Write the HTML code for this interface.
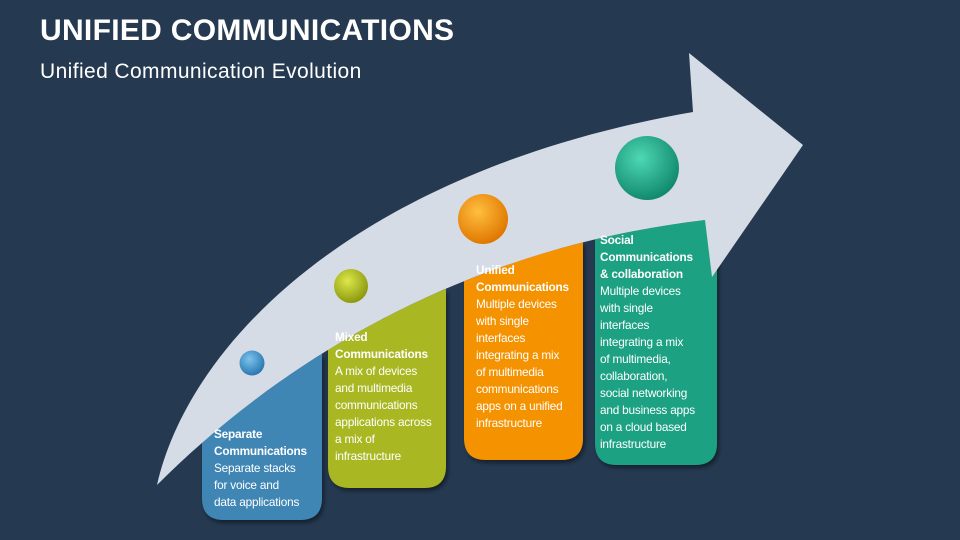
<!DOCTYPE html>
<html><head><meta charset="utf-8"><style>
body{margin:0;width:960px;height:540px;background:#253951;overflow:hidden;position:relative;font-family:"Liberation Sans",sans-serif;color:#fff}
.t{position:absolute;left:40px;top:14px;font-size:30px;font-weight:bold;letter-spacing:0.3px}
.s{position:absolute;left:40px;top:60px;font-size:21px;letter-spacing:0.4px}
.tx{position:absolute;font-size:11.8px;line-height:17px;letter-spacing:-0.2px;white-space:nowrap}
.tx b{font-weight:bold}
svg{position:absolute;left:0;top:0}
</style></head><body>
<div class="t">UNIFIED COMMUNICATIONS</div>
<div class="s">Unified Communication Evolution</div>
<svg width="960" height="540">
<defs>
<radialGradient id="g1" cx="40%" cy="35%" r="65%"><stop offset="0" stop-color="#7cc3ee"/><stop offset="1" stop-color="#2a78b0"/></radialGradient>
<radialGradient id="g2" cx="40%" cy="35%" r="65%"><stop offset="0" stop-color="#dde84a"/><stop offset="1" stop-color="#8d9a10"/></radialGradient>
<radialGradient id="g3" cx="40%" cy="35%" r="65%"><stop offset="0" stop-color="#ffbf40"/><stop offset="1" stop-color="#e07800"/></radialGradient>
<radialGradient id="g4" cx="40%" cy="35%" r="65%"><stop offset="0" stop-color="#4ed8b4"/><stop offset="1" stop-color="#128a6e"/></radialGradient>
<clipPath id="cp"><path d="M0,485 L157,485 C270,372 450,250 705,220 L960,220 L960,540 L0,540 Z"/></clipPath>
<filter id="sh" x="-10%" y="-10%" width="130%" height="130%"><feDropShadow dx="2" dy="3" stdDeviation="2" flood-color="#000" flood-opacity="0.45"/></filter>
</defs>
<g filter="url(#sh)"><g clip-path="url(#cp)">
<path d="M202,200 H322 V498 Q322,520 300,520 H224 Q202,520 202,498 Z" fill="#3f86b5"/>
<path d="M328,200 H446 V466 Q446,488 424,488 H350 Q328,488 328,466 Z" fill="#a9b824"/>
<path d="M464,200 H583 V438 Q583,460 561,460 H486 Q464,460 464,438 Z" fill="#f49200"/>
<path d="M595,200 H717 V443 Q717,465 695,465 H617 Q595,465 595,443 Z" fill="#1fa182"/>
</g></g>
<path d="M157,485 C190,340 360,170 693,112 L689,53 L803,145 L712,277 L705,220 C450,250 270,372 157,485 Z" fill="#d6dce5"/>
<circle cx="252" cy="363" r="12.5" fill="url(#g1)"/>
<circle cx="351" cy="286" r="17" fill="url(#g2)"/>
<circle cx="483" cy="219" r="25" fill="url(#g3)"/>
<circle cx="647" cy="168" r="32" fill="url(#g4)"/>
</svg>
<div class="tx" style="left:214px;top:426px"><b>Separate<br>Communications</b><br>Separate stacks<br>for voice and<br>data applications</div>
<div class="tx" style="left:335px;top:329px"><b>Mixed<br>Communications</b><br>A mix of devices<br>and multimedia<br>communications<br>applications across<br>a mix of<br>infrastructure</div>
<div class="tx" style="left:476px;top:262px"><b>Unified<br>Communications</b><br>Multiple devices<br>with single<br>interfaces<br>integrating a mix<br>of multimedia<br>communications<br>apps on a unified<br>infrastructure</div>
<div class="tx" style="left:600px;top:232px"><b>Social<br>Communications<br>&amp; collaboration</b><br>Multiple devices<br>with single<br>interfaces<br>integrating a mix<br>of multimedia,<br>collaboration,<br>social networking<br>and business apps<br>on a cloud based<br>infrastructure</div>
</body></html>
